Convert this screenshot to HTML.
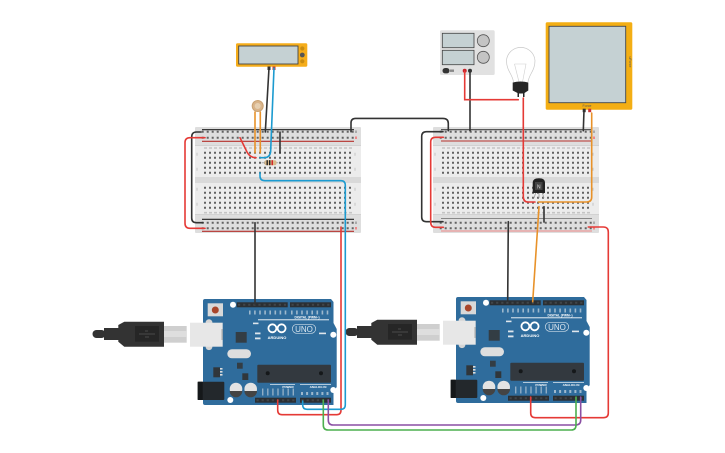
<!DOCTYPE html>
<html><head><meta charset="utf-8"><style>
html,body{margin:0;padding:0;background:#fff}
svg{display:block}
text{font-family:"Liberation Sans",sans-serif}
</style></head><body>
<svg width="725" height="453" viewBox="0 0 725 453" xmlns="http://www.w3.org/2000/svg">
<defs>
<g id="bb">
<rect width="166" height="106" rx="1" fill="#dedede"/>
<rect x="0" y="18" width="166" height="70" fill="#ececec"/>
<rect x="0" y="18" width="166" height="1" fill="#d2d2d2"/>
<rect x="0" y="87" width="166" height="1" fill="#d2d2d2"/>
<rect x="0" y="50" width="166" height="6" fill="#d9d9d9"/>
<g fill="none" stroke="#626262" stroke-width="2" stroke-dasharray="2 3">
<path d="M6.7,4.7H160M6.7,10.7H160M6.7,95.7H160M6.7,101.3H160"/>
<path d="M9,25.7H157M9,30.7H157M9,35.7H157M9,40.7H157M9,45.7H157"/>
<path d="M9,60.7H157M9,65.7H157M9,70.7H157M9,75.7H157M9,80.7H157"/>
</g>
<path d="M9,21H157M9,85.7H157" fill="none" stroke="#c4c4c4" stroke-width="1.6" stroke-dasharray="3 2"/>
<g fill="none" stroke="#c4c4c4" stroke-width="1" stroke-dasharray="3 12">
<path d="M160,25.7V46M2,25.7V46M160,60.7V81M2,60.7V81"/>
</g>
<rect x="160" y="3.5" width="2" height="2.5" fill="#aaa"/><rect x="160" y="9.5" width="2" height="2.5" fill="#e88"/>
<rect x="160" y="94.5" width="2" height="2.5" fill="#aaa"/><rect x="160" y="100" width="2" height="2.5" fill="#e88"/>
</g>
<g id="ard">
<path d="M205,299H331l2.5,3V323l3.2,6V387l-3.2,5V405H205a2,2 0 0 1-2-2V301a2,2 0 0 1 2-2Z" fill="#2f6c9c"/>
<rect x="236.7" y="302.3" width="51" height="5" fill="#2b2f33"/><rect x="290" y="302.3" width="41" height="5" fill="#2b2f33"/>
<rect x="255" y="397.7" width="41" height="5" fill="#2b2f33"/><rect x="300" y="397.7" width="31" height="5" fill="#2b2f33"/>
<path d="M238,304.8H287M291.5,304.8H331M256.5,400.2H296M301.5,400.2H331" stroke="#41464a" stroke-width="2" stroke-dasharray="2.2 2.9" fill="none"/>
<rect x="207.7" y="303.3" width="15.3" height="13" fill="#d8d8d8"/><circle cx="215.3" cy="310" r="3.5" fill="#a8452a"/>
<rect x="235.7" y="332" width="11" height="10.7" fill="#333d44"/>
<rect x="227.3" y="349.3" width="23.7" height="9" rx="4.5" fill="#dedede"/>
<rect x="237" y="362.7" width="5.7" height="6" fill="#333d44"/>
<rect x="213.3" y="367.3" width="6.7" height="10" fill="#30363b"/><rect x="220" y="368" width="2.5" height="1.6" fill="#ddd"/><rect x="220" y="371" width="2.5" height="1.6" fill="#ddd"/><rect x="220" y="374" width="2.5" height="1.6" fill="#ddd"/>
<rect x="242.3" y="373.3" width="6" height="6.7" fill="#30363b"/>
<rect x="257.3" y="364.7" width="73.7" height="18" rx="1" fill="#33393f"/><circle cx="267.7" cy="373.3" r="2" fill="#15181a"/><circle cx="321" cy="373.3" r="2" fill="#15181a"/>
<rect x="197.7" y="381.7" width="26.6" height="18.3" rx="1" fill="#23282c"/><rect x="197.7" y="381.7" width="5" height="18.3" fill="#15181a"/>
<circle cx="236" cy="389" r="6.3" fill="#e3e3e3"/><path d="M229.7,391a6.3,6.3 0 0 0 12.6,0Z" fill="#444"/><circle cx="250.7" cy="389" r="6.3" fill="#e3e3e3"/><path d="M244.4,391a6.3,6.3 0 0 0 12.6,0Z" fill="#444"/>
<circle cx="233" cy="304.7" r="3" fill="#fff"/><circle cx="333.3" cy="334.7" r="3" fill="#fff"/><circle cx="333.3" cy="390" r="3" fill="#fff"/><circle cx="230.3" cy="400" r="3" fill="#fff"/>
<g fill="none" stroke="#fff" stroke-width="1.8"><circle cx="272.4" cy="328.3" r="4"/><circle cx="281.6" cy="328.3" r="4"/></g>
<rect x="292.3" y="324.3" width="23.4" height="9" rx="4.5" fill="none" stroke="#cfdde8" stroke-width=".7"/>
<g stroke="#fff"><path d="M258,319.8H329" stroke-width=".8"/><path d="M270,384.4H295M300,384.4H331" stroke-width=".6"/></g>
<rect x="253" y="322.6" width="5.5" height="1.6" fill="#dfe6ec"/><rect x="255" y="332.5" width="5.5" height="1.8" fill="#dfe6ec"/><rect x="255" y="337.5" width="5.5" height="1.8" fill="#dfe6ec"/><rect x="319" y="332.6" width="7" height="1.6" fill="#dfe6ec"/>
<path d="M249,312.5H287M291,312.5H331" stroke="#9db8cd" stroke-width="4" stroke-dasharray="1.6 3.5" fill="none"/>
<path d="M262,392H295" stroke="#8fadc5" stroke-width="7" stroke-dasharray="1.4 3.7" fill="none"/>
<path d="M301,393.5H331" stroke="#9db8cd" stroke-width="3" stroke-dasharray="2 3.1" fill="none"/>
</g>
<g id="usb">
<rect x="164" y="326" width="22.7" height="16.7" fill="#cfcfcf"/><rect x="164" y="331" width="22.7" height="6" fill="#dedede"/>
<circle cx="209" cy="322.7" r="3.4" fill="#d5d5d5"/><circle cx="209" cy="346.7" r="3.4" fill="#d5d5d5"/>
<rect x="190" y="322.7" width="32.7" height="24" fill="#e7e7e7"/><rect x="221.5" y="329" width="1.2" height="11" fill="#aaa"/>
<path d="M118.3,325L124.3,321.7H164V346.7H124.3L118.3,341.7Z" fill="#333"/>
<rect x="135" y="326" width="24" height="15.7" fill="#262626"/>
<path d="M139,334H155M145,331h3M145,337h4" stroke="#555" stroke-width=".8" fill="none"/>
<rect x="104" y="328" width="14.5" height="12" fill="#333"/>
<rect x="92.5" y="330" width="13" height="8" rx="4" fill="#333"/>
</g>
</defs>

<use href="#bb" x="195" y="127"/>
<use href="#bb" x="433" y="127"/>

<!-- rail lines -->
<g stroke-width="1.1" fill="none">
<path d="M202,129.7H354M202,219.3H354" stroke="#222"/>
<path d="M202,141.3H354M202,231.3H354" stroke="#b5312c"/>
<path d="M441,129.7H592" stroke="#444"/><path d="M441,141H592" stroke="#b5312c"/>
<path d="M441,218.5H592" stroke="#888"/><path d="M441,231H592" stroke="#e88"/>
</g>

<use href="#ard"/><use href="#ard" x="253" y="-2"/>
<use href="#usb"/><use href="#usb" x="253" y="-2"/>

<g fill="#fff" font-weight="700" text-anchor="middle">
<text x="277" y="339" font-size="4">ARDUINO</text>
<text x="304" y="332" font-size="8" font-weight="400" fill="#dce7f0">UNO</text>
<text x="307" y="318.4" font-size="3.2">DIGITAL (PWM~)</text>
<text x="288" y="388" font-size="3">POWER</text>
<text x="318" y="388" font-size="3">ANALOG IN</text>
<text x="530" y="337" font-size="4">ARDUINO</text>
<text x="557" y="330" font-size="8" font-weight="400" fill="#dce7f0">UNO</text>
<text x="560" y="316.4" font-size="3.2">DIGITAL (PWM~)</text>
<text x="541" y="386" font-size="3">POWER</text>
<text x="571" y="386" font-size="3">ANALOG IN</text>
</g>

<!-- multimeter -->
<rect x="236" y="43.3" width="71.3" height="23.4" rx="1.5" fill="#f5ad1b"/>
<rect x="238.7" y="46" width="59.3" height="18" fill="#c5d1d3" stroke="#444" stroke-width=".9"/>
<circle cx="302.3" cy="48.5" r="2.1" fill="#c98c12"/><circle cx="302.3" cy="55" r="2.4" fill="#555"/><circle cx="302.3" cy="61.3" r="2.1" fill="#c98c12"/>
<rect x="267.5" y="66.5" width="3" height="3.5" fill="#333"/><rect x="272.5" y="66.5" width="3" height="3.5" fill="#c33"/>

<!-- PSU -->
<rect x="440" y="30.3" width="54.7" height="44.7" rx="1.5" fill="#e1e1e1"/>
<rect x="442.3" y="33.3" width="31.7" height="14.4" fill="#c5d1d3" stroke="#444" stroke-width=".8"/>
<rect x="442.3" y="50.3" width="31.7" height="14.4" fill="#c5d1d3" stroke="#444" stroke-width=".8"/>
<circle cx="483.3" cy="40.7" r="6" fill="#c4c4c4" stroke="#555" stroke-width=".8"/><circle cx="483.3" cy="57.3" r="6" fill="#c4c4c4" stroke="#555" stroke-width=".8"/>
<rect x="442.5" y="68" width="7" height="5.4" rx="2.7" fill="#333"/><rect x="450" y="69.5" width="4" height="2.4" fill="#888"/>
<circle cx="464.7" cy="70.7" r="2" fill="#c8222a"/><circle cx="470" cy="70.7" r="2" fill="#333"/>

<!-- bulb -->
<path d="M513.5,82C512.5,74 506.5,71 506.5,60.5A14.3,14.3 0 0 1 535,60.5C535,71 529,74 528,82" fill="none" stroke="#c8c8c8" stroke-width=".7"/>
<path d="M514.5,64H526L522.5,82M519,82L514.5,64" fill="none" stroke="#d0d0d0" stroke-width=".6"/>
<path d="M512.7,82.5Q520.7,80.5 528.3,82.5V90.5L524.5,93V97H523V93.5H519V97H517.5V93L512.7,90.5Z" fill="#262626"/>

<!-- big screen -->
<rect x="545.7" y="22.3" width="86.6" height="87.4" rx="1.5" fill="#f3ae14"/>
<rect x="549" y="26.3" width="76.7" height="76.4" fill="#c5d1d3" stroke="#444" stroke-width=".9"/>
<text x="587" y="107" font-size="3.5" text-anchor="middle" fill="#555">Force</text>
<text x="629" y="62" font-size="3.5" text-anchor="middle" fill="#555" transform="rotate(90 629 62)">uForce</text>
<rect x="582.7" y="108.7" width="3" height="3.5" fill="#333"/><rect x="588.2" y="108.7" width="3" height="3.5" fill="#c33"/>

<!-- wires -->
<g fill="none" stroke-width="1.6" stroke-linecap="round">
<g stroke="#333">
<path d="M269,68L265.3,132"/>
<path d="M280,132V153"/>
<path d="M201,132H196.5Q191.7,132 191.7,137V218Q191.7,222.7 196.5,222.7H203"/>
<path d="M255,222.7V304"/>
<path d="M351,131.7V123Q351,118.4 355.5,118.4H443Q448.3,118.4 448.3,123.4V130.7"/>
<path d="M470,71V130.7"/>
<path d="M584,110L583.3,130.7"/>
<path d="M443,131.7H426.5Q421.7,131.7 421.7,136.5V217Q421.7,221.7 426.5,221.7H443"/>
<path d="M544,206.7V222"/>
<path d="M508.3,221.7L507.7,300"/>
</g>
<g stroke="#e53a36">
<path d="M205,137.7H190Q185,137.7 185,142.7V223.3Q185,228.3 190,228.3H205"/>
<path d="M443.3,137.3H435.5Q430.7,137.3 430.7,142V222Q430.7,227.3 435.5,227.3H443.3"/>
<path d="M464.7,71V99.7H518.3"/>
<path d="M523.3,98V196.7Q523.3,202 528.3,202H535"/>
<path d="M588.3,227H603.3Q608.3,227 608.3,232V413Q608.3,417.7 603.3,417.7H535.5Q530.7,417.7 530.7,413V397"/>
<path d="M240,137.7L247,152Q250,157.7 256,157.7"/>
<path d="M341,227V410Q341,414.7 336.7,414.7H282Q277.7,414.7 277.7,410V400"/>
</g>
<g stroke="#1c9bd0">
<path d="M274,68L270.7,150Q270.7,157.7 264,157.7H260"/>
<path d="M260,172.7V176Q260,180.7 265,180.7H341Q345.3,180.7 345.3,185.5V404.5Q345.3,409.3 341,409.3H307Q302.7,409.3 302.7,405V401"/>
</g>
<g stroke="#e8922a">
<path d="M255,112V152.7"/><path d="M260.3,112V152.7"/>
<path d="M538.3,202H586.7Q591.7,202 591.7,197V113"/>
<path d="M539,206.7L532.7,301.7"/>
</g>
<path d="M328.3,400V420Q328.3,425 333,425H575.5Q580.7,425 580.7,420V397" stroke="#8a4fa3"/>
<path d="M323.3,400V425Q323.3,430 328,430H571.5Q576,430 576,425V397" stroke="#4caf4f"/>
</g>

<!-- LDR -->
<circle cx="257.7" cy="106" r="5.5" fill="#d9b48a" stroke="#c9a273"/><circle cx="257.7" cy="106" r="3" fill="#e6cfb0"/>
<!-- resistor -->
<path d="M261.7,162.7H278.3" stroke="#aaa" stroke-width="1"/>
<rect x="264.5" y="160.2" width="12" height="5" rx="2" fill="#d9b98a"/>
<rect x="266.5" y="160.2" width="1.4" height="5" fill="#222"/><rect x="269" y="160.2" width="1.4" height="5" fill="#222"/><rect x="271.5" y="160.2" width="1.5" height="5" fill="#d3262a"/>
<!-- transistor -->
<path d="M534,198L536,192M539,198V192M544,198L542,192" stroke="#999" stroke-width=".8"/>
<path d="M532.7,183Q532.7,178.3 539,178.3Q545,178.3 545,183V193H532.7Z" fill="#222"/>
<rect x="535" y="182" width="7.5" height="8" fill="#444"/>
<text x="538.8" y="188.5" font-size="5" text-anchor="middle" fill="#ddd">N</text>
</svg>
</body></html>
